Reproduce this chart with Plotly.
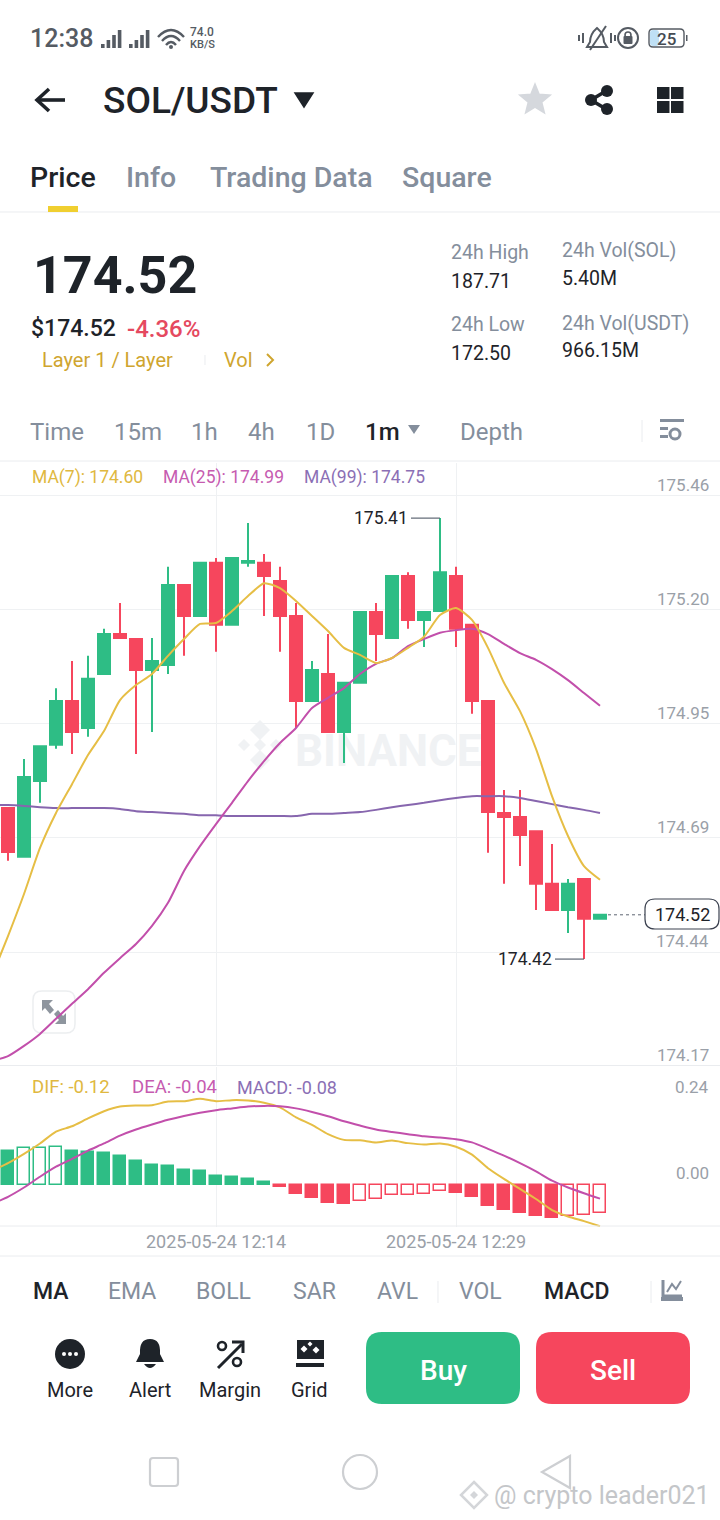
import math
import plotly.graph_objects as go

# ---------- data ----------
times = [f"2025-05-24 12:{m:02d}" for m in range(1, 39)]
line_times = ["2025-05-24 12:00"] + times

opens = [174.755,174.645,174.816,174.898,174.997,174.936,175.058,175.148,175.137,175.067,
         175.078,175.259,175.189,175.309,175.169,175.309,175.309,175.268,175.189,174.997,
         175.058,174.927,175.038,175.198,175.139,175.279,175.180,175.200,175.279,175.169,
         174.997,174.744,174.735,174.703,174.584,174.525,174.595,174.505]
highs = [174.755,174.866,174.895,175.026,175.087,175.099,175.160,175.218,175.137,175.139,
         175.300,175.259,175.309,175.320,175.320,175.399,175.329,175.300,175.218,175.087,
         175.148,175.038,175.198,175.218,175.279,175.288,175.198,175.410,175.300,175.169,
         174.997,174.796,174.796,174.703,174.674,174.595,174.595,174.514]
lows = [174.636,174.645,174.767,174.889,174.877,174.916,175.058,175.139,174.877,174.927,
        175.058,175.099,175.189,175.108,175.169,175.300,175.189,175.108,174.936,174.997,
        174.927,174.857,175.038,175.087,175.139,175.160,175.119,175.200,175.119,174.968,
        174.654,174.584,174.624,174.525,174.525,174.473,174.414,174.505]
closes = [174.656,174.825,174.895,174.997,174.927,175.047,175.148,175.139,175.067,175.087,
          175.259,175.189,175.309,175.169,175.320,175.313,175.279,175.189,174.997,175.067,
          174.927,175.038,175.198,175.148,175.279,175.180,175.198,175.288,175.160,174.997,
          174.746,174.735,174.694,174.584,174.525,174.584,174.505,174.514]

ma7 = [174.376,174.466,174.561,174.665,174.744,174.809,174.875,174.929,174.999,175.033,175.058,
       175.099,175.137,175.171,175.173,175.200,175.234,175.263,175.252,175.223,175.189,
       175.155,175.117,175.101,175.083,175.094,175.117,175.142,175.191,175.207,175.180,
       175.117,175.038,174.974,174.889,174.782,174.692,174.624,174.593]
ma25 = [174.184,174.195,174.218,174.245,174.279,174.313,174.346,174.383,174.416,174.448,174.489,
        174.541,174.613,174.669,174.719,174.767,174.816,174.861,174.902,174.936,174.981,
        175.004,175.026,175.058,175.081,175.094,175.121,175.137,175.151,175.157,175.160,
        175.148,175.126,175.105,175.090,175.069,175.044,175.015,174.986]
ma99 = [174.762,174.762,174.760,174.757,174.755,174.755,174.755,174.755,174.753,174.748,174.746,
        174.744,174.742,174.739,174.739,174.737,174.737,174.737,174.737,174.737,174.742,
        174.742,174.744,174.746,174.751,174.757,174.762,174.767,174.773,174.778,174.782,
        174.782,174.782,174.778,174.771,174.764,174.757,174.751,174.744]

macd = [0.096,0.102,0.103,0.105,0.095,0.091,0.090,0.082,0.068,0.055,0.052,0.043,0.040,
        0.026,0.023,0.018,0.009,-0.006,-0.026,-0.035,-0.050,-0.052,-0.044,-0.040,-0.028,
        -0.027,-0.024,-0.018,-0.021,-0.034,-0.058,-0.070,-0.078,-0.087,-0.091,-0.087,-0.085,-0.078]
macd_hollow = [1, 2, 3, 22, 23, 24, 25, 26, 27, 35, 36, 37]
dif = [0.040,0.061,0.087,0.116,0.149,0.164,0.186,0.206,0.219,0.222,0.223,0.233,0.234,0.241,
       0.234,0.237,0.236,0.230,0.217,0.189,0.168,0.142,0.126,0.125,0.119,0.124,0.117,0.113,
       0.116,0.107,0.085,0.047,0.017,-0.011,-0.039,-0.070,-0.088,-0.101,-0.115]
dea = [-0.053,-0.033,-0.007,0.023,0.051,0.073,0.096,0.116,0.138,0.155,0.169,0.182,0.193,0.202,
       0.209,0.214,0.219,0.221,0.220,0.214,0.204,0.192,0.178,0.166,0.155,0.148,0.142,0.136,
       0.133,0.128,0.119,0.101,0.082,0.061,0.038,0.012,-0.007,-0.023,-0.038]

price_ticks = [175.46, 175.2025, 174.945, 174.6875, 174.43, 174.1725]
price_labels = ["175.46", "175.20", "174.95", "174.69", "174.44", "174.17"]
macd_ticks = [0.24, 0.0]
macd_labels = ["0.24", "0.00"]
x_ticks = [times[13], times[28]]
x_labels = ["2025-05-24 12:14", "2025-05-24 12:29"]
extreme_labels = ["175.41", "174.42"]

# ---------- style ----------
W, H = 720, 1520
GREEN, RED = "#2EBD85", "#F6465D"
DARK, GRAY, AXIS = "#1E2329", "#848E9C", "#9AA0A8"
GRID = "#EFF1F3"
YEL, MAG, PUR = "#E6BE45", "#C24FAB", "#8766AE"
FONT = "Roboto"


def P(s):
    out, is_x = [], True
    for t in s.split():
        if t.isalpha():
            out.append(t)
            is_x = True
        else:
            v = float(t)
            out.append(f"{v / W:.5f}" if is_x else f"{1 - v / H:.5f}")
            is_x = not is_x
    return " ".join(out)


shapes, annos = [], []


def path(s, fill=None, line=None, lw=0, layer="above"):
    shapes.append(dict(type="path", path=P(s), xref="paper", yref="paper", layer=layer,
                       fillcolor=fill or "rgba(0,0,0,0)",
                       line=dict(color=line or "rgba(0,0,0,0)", width=lw)))


def rect(x0, y0, x1, y1, fill):
    path(f"M {x0} {y0} L {x1} {y0} L {x1} {y1} L {x0} {y1} Z", fill=fill)


def rrect(x0, y0, x1, y1, r, fill=None, line=None, lw=0, layer="above"):
    path(f"M {x0+r} {y0} L {x1-r} {y0} Q {x1} {y0} {x1} {y0+r} L {x1} {y1-r} Q {x1} {y1} {x1-r} {y1} "
         f"L {x0+r} {y1} Q {x0} {y1} {x0} {y1-r} L {x0} {y0+r} Q {x0} {y0} {x0+r} {y0} Z",
         fill=fill, line=line, lw=lw, layer=layer)


def circle(cx, cy, r, fill=None, line=None, lw=0):
    shapes.append(dict(type="circle", xref="paper", yref="paper",
                       x0=(cx - r) / W, x1=(cx + r) / W, y0=1 - (cy + r) / H, y1=1 - (cy - r) / H,
                       fillcolor=fill or "rgba(0,0,0,0)",
                       line=dict(color=line or "rgba(0,0,0,0)", width=lw)))


def hline(y, x0=0, x1=W, color="#EAECEF", lw=1):
    path(f"M {x0} {y} L {x1} {y}", line=color, lw=lw)


def diamond(cx, cy, r, **kw):
    path(f"M {cx} {cy-r} L {cx+r} {cy} L {cx} {cy+r} L {cx-r} {cy} Z", **kw)


def text(x, y, s, size, color=DARK, anchor="left", weight=400):
    dx = -2 if anchor == "left" else 0
    annos.append(dict(x=(x + dx) / W, y=1 - y / H, xref="paper", yref="paper", text=s, showarrow=False,
                      xanchor=anchor, yanchor="middle", align=anchor,
                      font=dict(family=FONT, size=size, color=color, weight=weight)))


# ---------- figure ----------
fig = go.Figure()
fig.add_trace(go.Candlestick(
    x=times, open=opens, high=highs, low=lows, close=closes, whiskerwidth=0,
    increasing=dict(line=dict(color=GREEN, width=2), fillcolor=GREEN),
    decreasing=dict(line=dict(color=RED, width=2), fillcolor=RED),
    xaxis="x", yaxis="y"))
for vals, col in [(ma99, PUR), (ma25, MAG), (ma7, YEL)]:
    fig.add_trace(go.Scatter(x=line_times, y=vals, mode="lines", xaxis="x", yaxis="y",
                             line=dict(color=col, width=2, shape="spline", smoothing=0.6)))

bar_edge = [(GREEN if v > 0 else RED) for v in macd]
bar_fill = ["#FFFFFF" if i in macd_hollow else bar_edge[i] for i in range(len(macd))]
fig.add_trace(go.Bar(x=times, y=macd, width=47000, xaxis="x2", yaxis="y2",
                     marker=dict(color=bar_fill, line=dict(color=bar_edge, width=1.5))))
fig.add_trace(go.Scatter(x=line_times, y=dif, mode="lines", xaxis="x2", yaxis="y2",
                         line=dict(color=YEL, width=2, shape="spline", smoothing=0.6)))
fig.add_trace(go.Scatter(x=line_times, y=dea, mode="lines", xaxis="x2", yaxis="y2",
                         line=dict(color=MAG, width=2, shape="spline", smoothing=0.6)))

xrange_ = ["2025-05-24 12:00:30", "2025-05-24 12:45:30"]
fig.update_layout(
    width=W, height=H, margin=dict(l=0, r=0, t=0, b=0), showlegend=False,
    paper_bgcolor="white", plot_bgcolor="white", boxgap=0.25, boxgroupgap=0, bargap=0,
    font=dict(family=FONT),
    xaxis=dict(type="date", range=xrange_, domain=[0, 1], anchor="y", rangeslider=dict(visible=False),
               tickmode="array", tickvals=x_ticks, ticktext=["", ""], showgrid=True, gridcolor=GRID,
               gridwidth=1, zeroline=False, showline=False, ticks=""),
    yaxis=dict(range=[174.1725, 175.5345], domain=[1 - 1066 / H, 1 - 463 / H], anchor="x",
               tickmode="array", tickvals=price_ticks, showticklabels=False, showgrid=True,
               gridcolor=GRID, gridwidth=1, zeroline=False, showline=False, ticks=""),
    xaxis2=dict(type="date", range=xrange_, domain=[0, 1], anchor="y2", tickmode="array",
                tickvals=x_ticks, ticktext=x_labels, showgrid=True, gridcolor=GRID, gridwidth=1,
                zeroline=False, showline=False, ticks="", ticklabelstandoff=2,
                tickfont=dict(family=FONT, size=18, color=AXIS)),
    yaxis2=dict(range=[-0.1173, 0.3296], domain=[1 - 1227 / H, 1 - 1067 / H], anchor="x2",
                showgrid=False, zeroline=False, showline=False, showticklabels=False, ticks=""),
)

# axis labels sitting just above their grid lines
for v, lab in zip(price_ticks, price_labels):
    annos.append(dict(x=711 / W, y=v, xref="paper", yref="y", yshift=11, text=lab, showarrow=False,
                      xanchor="right", yanchor="middle", font=dict(family=FONT, size=17, color=AXIS)))
for v, lab in zip(macd_ticks, macd_labels):
    annos.append(dict(x=711 / W, y=v, xref="paper", yref="y2", yshift=12, text=lab, showarrow=False,
                      xanchor="right", yanchor="middle", font=dict(family=FONT, size=17, color=AXIS)))

# high / low leaders, taken from the candle data
hi = max(highs)
lo = min(lows)
hi_t = times[highs.index(hi)]
lo_t = times[lows.index(lo)]
for t, v, lab in [(hi_t, hi, extreme_labels[0]), (lo_t, lo, extreme_labels[1])]:
    shapes.append(dict(type="line", xref="x", yref="y", xsizemode="pixel", xanchor=t, x0=-29, x1=0,
                       y0=v, y1=v, line=dict(color="#5E6673", width=1.2)))
    annos.append(dict(x=t, y=v, xref="x", yref="y", xshift=-30, text=lab, showarrow=False,
                      xanchor="right", yanchor="middle", font=dict(family=FONT, size=17.5, color=DARK)))

# last price tag
last = closes[-1]
shapes.append(dict(type="line", xref="paper", yref="y", x0=608 / W, x1=645 / W, y0=last, y1=last,
                   line=dict(color="#5E6673", width=1, dash="3px,3px")))
rrect(645, 899, 719, 929, 10, fill="white", line="#3C4250", lw=1.2)
annos.append(dict(x=682 / W, y=last, xref="paper", yref="y", text="174.52", showarrow=False,
                  xanchor="center", yanchor="middle", font=dict(family=FONT, size=18, color=DARK)))

# watermark under the candles
shapes.append(dict(type="rect", xref="paper", yref="paper", layer="below",
                   x0=289 / W, x1=490 / W, y0=1 - 768 / H, y1=1 - 728 / H, line=dict(width=0),
                   label=dict(text="<b>BINANCE</b>", textposition="middle left",
                              font=dict(family=FONT, size=44, color="#F0F2F4"))))
for cx, cy, r in [(260, 730, 10), (244, 745, 6), (260, 745, 6), (276, 745, 6), (260, 760, 10)]:
    diamond(cx, cy, r, fill="#F0F2F4", layer="below")

# dividers
hline(212)
hline(461)
hline(1065.5)
hline(1226)
hline(1256)

# status bar
text(30, 39, "12:38", 25, "#555B63", weight=500)
for x0 in (101, 129):
    for k, h in enumerate((4, 8, 13, 18)):
        rect(x0 + k * 5.6, 48 - h, x0 + k * 5.6 + 3.6, 48, "#555B63")
for s in ("M 158 37 Q 171 23 184 37", "M 162 41 Q 171 31 180 41", "M 166 45 Q 171 39 176 45"):
    path(s, line="#555B63", lw=2.4)
circle(171, 47, 2, fill="#555B63")
text(190, 32, "74.0", 12, "#555B63", weight=500)
text(190, 45, "KB/S", 11, "#555B63", weight=500)
path("M 597 28 Q 590 34 590 42 L 587 47 L 607 47 L 604 42 Q 604 34 597 28 Z", line="#555B63", lw=2)
path("M 590 50 L 606 26", line="#555B63", lw=2)
for x, a, b in [(583, 33, 43), (579, 35, 41), (611, 33, 43), (615, 35, 41)]:
    path(f"M {x} {a} L {x} {b}", line="#555B63", lw=2)
circle(628, 38, 10, line="#555B63", lw=2)
rrect(623.5, 36, 632.5, 44, 1, fill="#555B63")
circle(628, 35, 3, line="#555B63", lw=1.6)
rrect(649, 29, 684, 47, 4, line="#555B63", lw=1.4)
rrect(650, 30, 659, 46, 3, fill="#BFE0F5")
rect(686, 35, 687.5, 41, "#555B63")
text(666, 38.5, "25", 17, "#454B53", anchor="center", weight=500)

# header
path("M 65 100 L 37 100", line=DARK, lw=3.6)
path("M 49 89 L 37 100 L 49 111", line=DARK, lw=3.6)
text(103, 101, "SOL/USDT", 37, DARK, weight=500)
path("M 295 93 L 313 93 L 304 107 Z", fill=DARK, line=DARK, lw=1.5)
star = []
for k in range(10):
    r = 16 if k % 2 == 0 else 7
    a = -math.pi / 2 + k * math.pi / 5
    star.append(f"{'M' if k == 0 else 'L'} {535 + r * math.cos(a):.1f} {100 + r * math.sin(a):.1f}")
path(" ".join(star) + " Z", fill="#D5D8DD", line="#D5D8DD", lw=1.5)
path("M 606 91 L 591 100 L 606 109", line=DARK, lw=3.6)
for cx, cy in [(607, 91), (591, 100), (607, 109)]:
    circle(cx, cy, 6, fill=DARK)
for a, b in [(657, 87), (671, 87), (657, 101), (671, 101)]:
    rect(a, b, a + 12.5, b + 12, DARK)

# tabs
text(30, 177, "Price", 28.5, DARK, weight=500)
for x, s in [(126, "Info"), (210, "Trading Data"), (402, "Square")]:
    text(x, 177, s, 28.5, GRAY, weight=500)
rect(48, 206, 78, 212, "#F0CF30")

# price block
text(33, 275, "174.52", 52, DARK, weight=700)
text(31, 329, "$174.52", 23, DARK, weight=500)
text(127, 329, "-4.36%", 24, "#E5495F", weight=500)
text(42, 360, "Layer 1 / Layer", 20, "#CFA52F")
path("M 205 355 L 205 365", line="#EAECEF", lw=1)
text(224, 360, "Vol", 20, "#CFA52F")
path("M 267 354 L 273 360 L 267 366", line="#CFA52F", lw=2)
for x, y, s, col in [(451, 253, "24h High", GRAY), (451, 281, "187.71", DARK),
                     (451, 325, "24h Low", GRAY), (451, 353, "172.50", DARK),
                     (562, 250, "24h Vol(SOL)", GRAY), (562, 279, "5.40M", DARK),
                     (562, 323, "24h Vol(USDT)", GRAY), (562, 351, "966.15M", DARK)]:
    text(x, y, s, 19.5, col)

# interval row
for x, s in [(30, "Time"), (114, "15m"), (191, "1h"), (248, "4h"), (306, "1D"), (460, "Depth")]:
    text(x, 432, s, 24, GRAY)
text(365, 432, "1m", 24, DARK, weight=500)
path("M 408 425 L 420 425 L 414 434 Z", fill=GRAY)
path("M 642 420 L 642 442", line="#EAECEF", lw=1)
rect(660, 419, 684, 422, GRAY)
rect(660, 427, 668, 430, GRAY)
rect(660, 435, 668, 438, GRAY)
circle(675, 434, 5, line=GRAY, lw=3)

# legends
text(32, 478, "MA(7): 174.60", 17.5, "#E0B840")
text(163, 478, "MA(25): 174.99", 17.5, "#C65BB0")
text(304, 478, "MA(99): 174.75", 17.5, "#8B6FB5")
text(32, 1087, "DIF: -0.12", 18.5, "#E0B840")
text(132, 1087, "DEA: -0.04", 18.5, "#C65BB0")
text(237, 1087, "MACD: -0.08", 18, "#8B6FB5")

# expand button
rrect(33, 991, 75, 1033, 9, line="#ECEEF0", lw=1.5, layer="below")
path("M 42 1000 L 53 1000 L 49 1004 L 54 1010 L 50 1014 L 45 1008 L 42 1011 Z", fill="#8E959E", layer="below")
path("M 66 1024 L 55 1024 L 59 1020 L 54 1014 L 58 1010 L 63 1016 L 66 1013 Z", fill="#8E959E", layer="below")

# indicator row
for x, s, c, w in [(33, "MA", DARK, 500), (108, "EMA", GRAY, 400), (196, "BOLL", GRAY, 400),
                   (293, "SAR", GRAY, 400), (377, "AVL", GRAY, 400), (459, "VOL", GRAY, 400),
                   (544, "MACD", DARK, 500)]:
    text(x, 1291, s, 23, c, weight=w)
path("M 438 1281 L 438 1303", line="#EAECEF", lw=1)
path("M 651 1281 L 651 1303", line="#EAECEF", lw=1)
path("M 663 1280 L 663 1296 L 682 1296", line=GRAY, lw=3)
path("M 667 1292 L 672 1284 L 676 1289 L 681 1281", line=GRAY, lw=2)
rect(661, 1297, 683, 1301, GRAY)

# action icons
circle(70, 1354, 15, fill=DARK)
for dx in (-6, 0, 6):
    circle(70 + dx, 1354, 2, fill="white")
path("M 136 1362 L 140 1354 Q 139 1339 150 1339 Q 161 1339 160 1354 L 164 1362 Z", fill=DARK)
path("M 144 1364 Q 150 1372 156 1364 Z", fill=DARK)
circle(222, 1346, 4, line=DARK, lw=2.6)
circle(237, 1362, 4, line=DARK, lw=2.6)
path("M 218 1368 L 242 1344", line=DARK, lw=3)
path("M 232 1342 L 243 1342 L 243 1353", line=DARK, lw=3)
path("M 297 1340 L 324 1340 L 324 1359 L 297 1359 Z", fill=DARK)
diamond(304, 1349, 3.5, fill="white")
diamond(316, 1350, 3.5, fill="white")
diamond(310, 1344, 2.5, fill="white")
rect(296, 1363, 324, 1367, DARK)
for x, s in [(70, "More"), (150, "Alert"), (230, "Margin"), (309, "Grid")]:
    text(x, 1390, s, 20, DARK, anchor="center")
rrect(366, 1332, 520, 1404, 16, fill=GREEN)
rrect(536, 1332, 690, 1404, 16, fill=RED)
text(443, 1370, "Buy", 28, "white", anchor="center", weight=500)
text(613, 1370, "Sell", 28, "white", anchor="center", weight=500)

# nav bar
rrect(150, 1458, 178, 1486, 3, line="#CDCFD2", lw=2.2)
circle(360, 1472, 17, line="#CDCFD2", lw=2.2)
path("M 570 1456 L 570 1488 L 542 1472 Z", line="#CDCFD2", lw=2.2)

# footer watermark
diamond(474, 1495, 13, line="#D4D6D9", lw=2.5)
diamond(474, 1495, 4, fill="#D4D6D9")
text(494, 1495, "@ crypto leader021", 25, "#C4C6C9")

fig.update_layout(shapes=shapes, annotations=annos)
fig.write_html("out.html", config={"displayModeBar": False},
               post_script="document.body.style.margin='0';")
